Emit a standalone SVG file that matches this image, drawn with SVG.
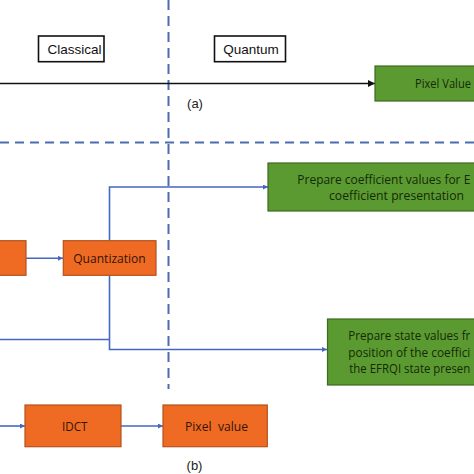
<svg xmlns="http://www.w3.org/2000/svg" width="474" height="474" viewBox="0 0 474 474">
<style>
.lbl{font-family:"Liberation Sans",Arial,sans-serif;font-size:13.5px;fill:#111}
.cap{font-family:"Liberation Sans",Arial,sans-serif;font-size:13px;fill:#222}
.wbox{fill:#fff;stroke:#111;stroke-width:1.6}
.org{fill:#ef6b24;stroke:#b4521c;stroke-width:1.2}
.grn{fill:#5b9a30;stroke:#3d6a20;stroke-width:1.2}
.ot{font-family:"Open Sans","Noto Sans",sans-serif;font-size:12.5px;fill:#341405}
.gt{font-family:"Open Sans","Noto Sans",sans-serif;font-size:12.5px;fill:#142a08}
.dash{stroke:#4a6cb2;stroke-width:2;fill:none}
.blue{stroke:#4468c0;stroke-width:1.6;fill:none}
</style>
<defs>
<marker id="ab" viewBox="0 0 10 10" refX="10" refY="5" markerWidth="5" markerHeight="5" markerUnits="userSpaceOnUse" orient="auto"><path d="M0,0L10,5L0,10z" fill="#4468c0"/></marker>
<marker id="ak" viewBox="0 0 10 10" refX="10" refY="5" markerWidth="7" markerHeight="7" markerUnits="userSpaceOnUse" orient="auto"><path d="M0,0L10,5L0,10z" fill="#111"/></marker>
</defs>
<rect width="474" height="474" fill="#fff"/>
<g id="dividers">
<line class="dash" x1="168.5" y1="0" x2="168.5" y2="389" stroke-dasharray="10,6"/>
<line class="dash" x1="0" y1="142.5" x2="474" y2="142.5" stroke-dasharray="9,6"/>
</g>
<g id="connectors">
<line x1="0" y1="83.5" x2="375" y2="83.5" stroke="#111" stroke-width="1.6" marker-end="url(#ak)"/>
<line class="blue" x1="26" y1="258.3" x2="63" y2="258.3" marker-end="url(#ab)"/>
<polyline class="blue" points="109.5,241 109.5,187 268,187" marker-end="url(#ab)"/>
<polyline class="blue" points="109.5,275.3 109.5,349.5 327,349.5" marker-end="url(#ab)"/>
<line class="blue" x1="0" y1="339.5" x2="109.5" y2="339.5"/>
<line class="blue" x1="0" y1="426" x2="25" y2="426" marker-end="url(#ab)"/>
<line class="blue" x1="121" y1="426" x2="163" y2="426" marker-end="url(#ab)"/>
</g>
<g id="classical"><rect class="wbox" x="38.5" y="36" width="65.5" height="25.7"/><text class="lbl" x="47.5" y="53.5">Classical</text></g>
<g id="quantum"><rect class="wbox" x="214.5" y="36" width="71" height="25.7"/><text class="lbl" x="223.3" y="53.5">Quantum</text></g>
<g id="pixel-value-a"><rect class="grn" x="375" y="66" width="110" height="35"/><text class="gt" x="415" y="88" font-size="13" textLength="56" lengthAdjust="spacingAndGlyphs">Pixel Value</text></g>
<text class="cap" x="195" y="108" text-anchor="middle">(a)</text>
<g id="left-box"><rect class="org" x="-5" y="240.7" width="31" height="34.6"/></g>
<g id="quantization"><rect class="org" x="63.3" y="240.7" width="92.7" height="34.6"/><text class="ot" x="109.5" y="263" text-anchor="middle" textLength="72.5" lengthAdjust="spacingAndGlyphs">Quantization</text></g>
<g id="prepare-coeff"><rect class="grn" x="268" y="163" width="220" height="48"/>
<text class="gt" x="297.3" y="183.5" textLength="173" lengthAdjust="spacingAndGlyphs">Prepare coefficient values for E</text>
<text class="gt" x="329" y="200" textLength="135" lengthAdjust="spacingAndGlyphs">coefficient presentation</text></g>
<g id="prepare-state"><rect class="grn" x="327.5" y="319" width="160" height="66"/>
<text class="gt" x="348.3" y="340" textLength="122" lengthAdjust="spacingAndGlyphs">Prepare state values fr</text>
<text class="gt" x="348.3" y="356.5" textLength="122" lengthAdjust="spacingAndGlyphs">position of the coeffici</text>
<text class="gt" x="349.3" y="373" textLength="121" lengthAdjust="spacingAndGlyphs">the EFRQI state presen</text></g>
<g id="idct"><rect class="org" x="25" y="405" width="96" height="41.7"/><text class="ot" x="74.7" y="430.5" text-anchor="middle" textLength="25.5" lengthAdjust="spacingAndGlyphs">IDCT</text></g>
<g id="pixel-value-b"><rect class="org" x="163" y="405" width="104.3" height="41.7"/><text class="ot" x="216.5" y="430.5" text-anchor="middle" textLength="63" lengthAdjust="spacingAndGlyphs" xml:space="preserve">Pixel  value</text></g>
<text class="cap" x="194.5" y="470" text-anchor="middle">(b)</text>
</svg>
